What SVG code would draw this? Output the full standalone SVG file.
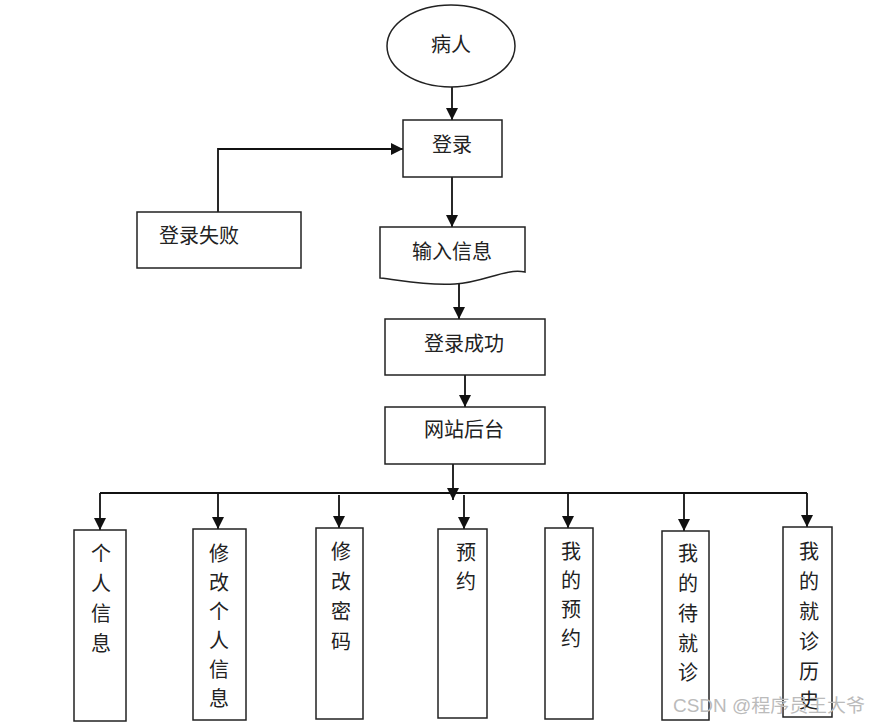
<svg xmlns="http://www.w3.org/2000/svg" width="880" height="724" viewBox="0 0 880 724">
<style>
.box{fill:#fff;stroke:#222;stroke-width:1.5}
.ln{fill:none;stroke:#111;stroke-width:1.8}
.t{font-family:"Noto Sans CJK SC","Liberation Serif",serif;font-size:20px;fill:#222;text-anchor:middle;dominant-baseline:central}
.wm{font-family:"Liberation Sans","Noto Sans CJK SC",sans-serif;font-size:18px;fill:#bbb}
</style>
<defs>
<marker id="ah" markerWidth="12" markerHeight="12" viewBox="0 0 12 12" refX="12" refY="6" orient="auto" markerUnits="userSpaceOnUse">
<path d="M0,0 L12,6 L0,12 Z" fill="#111"/>
</marker>
</defs>
<rect width="880" height="724" fill="#fff"/>
<g id="connectors">
<line class="ln" x1="452" y1="87" x2="452" y2="120" marker-end="url(#ah)"/>
<polyline class="ln" points="218,212 218,149 403,149" marker-end="url(#ah)"/>
<line class="ln" x1="452" y1="177" x2="452" y2="227" marker-end="url(#ah)"/>
<line class="ln" x1="459" y1="283" x2="459" y2="319" marker-end="url(#ah)"/>
<line class="ln" x1="465" y1="375" x2="465" y2="407" marker-end="url(#ah)"/>
<line class="ln" x1="453" y1="464" x2="453" y2="500" marker-end="url(#ah)"/>
<line class="ln" x1="100" y1="493" x2="807" y2="493"/>
<line class="ln" x1="100" y1="493" x2="100" y2="530" marker-end="url(#ah)"/>
<line class="ln" x1="218" y1="493" x2="218" y2="529" marker-end="url(#ah)"/>
<line class="ln" x1="339" y1="495" x2="339" y2="528" marker-end="url(#ah)"/>
<line class="ln" x1="464" y1="495" x2="464" y2="529" marker-end="url(#ah)"/>
<line class="ln" x1="568" y1="493" x2="568" y2="528" marker-end="url(#ah)"/>
<line class="ln" x1="684" y1="493" x2="684" y2="531" marker-end="url(#ah)"/>
<line class="ln" x1="807" y1="493" x2="807" y2="527" marker-end="url(#ah)"/>
</g>
<g id="patient">
<ellipse class="box" cx="451" cy="46" rx="64" ry="41"/>
<text class="t" x="451" y="43">病人</text>
</g>
<g id="login">
<rect class="box" x="403" y="120" width="99" height="57"/>
<text class="t" x="452" y="143">登录</text>
</g>
<g id="login-fail">
<rect class="box" x="137" y="212" width="164" height="56"/>
<text class="t" x="199" y="234">登录失败</text>
</g>
<g id="input-info">
<path class="box" d="M380,227 H525 V272 C505,268 485,282 455,284 C425,286 400,280 380,278 Z"/>
<text class="t" x="452" y="250">输入信息</text>
</g>
<g id="login-success">
<rect class="box" x="385" y="319" width="160" height="56"/>
<text class="t" x="464" y="342">登录成功</text>
</g>
<g id="backend">
<rect class="box" x="385" y="407" width="160" height="57"/>
<text class="t" x="464" y="428">网站后台</text>
</g>
<g id="personal-info">
<rect class="box" x="74" y="530" width="52" height="191"/>
<text class="t" x="101"><tspan x="101" y="552">个</tspan><tspan x="101" y="582">人</tspan><tspan x="101" y="612">信</tspan><tspan x="101" y="642">息</tspan></text>
</g>
<g id="edit-personal-info">
<rect class="box" x="193" y="529" width="53" height="191"/>
<text class="t" x="219"><tspan x="219" y="552">修</tspan><tspan x="219" y="581">改</tspan><tspan x="219" y="610">个</tspan><tspan x="219" y="639">人</tspan><tspan x="219" y="668">信</tspan><tspan x="219" y="697">息</tspan></text>
</g>
<g id="change-password">
<rect class="box" x="316" y="528" width="47" height="191"/>
<text class="t" x="341"><tspan x="341" y="550">修</tspan><tspan x="341" y="580">改</tspan><tspan x="341" y="610">密</tspan><tspan x="341" y="640">码</tspan></text>
</g>
<g id="appointment">
<rect class="box" x="438" y="529" width="49" height="189"/>
<text class="t" x="466"><tspan x="466" y="551">预</tspan><tspan x="466" y="580">约</tspan></text>
</g>
<g id="my-appointments">
<rect class="box" x="545" y="528" width="48" height="191"/>
<text class="t" x="571"><tspan x="571" y="550">我</tspan><tspan x="571" y="579">的</tspan><tspan x="571" y="608">预</tspan><tspan x="571" y="637">约</tspan></text>
</g>
<g id="pending-visits">
<rect class="box" x="662" y="531" width="47" height="189"/>
<text class="t" x="688"><tspan x="688" y="552">我</tspan><tspan x="688" y="582">的</tspan><tspan x="688" y="612">待</tspan><tspan x="688" y="642">就</tspan><tspan x="688" y="671">诊</tspan></text>
</g>
<g id="visit-history">
<rect class="box" x="783" y="527" width="49" height="190"/>
<text class="t" x="809"><tspan x="809" y="550">我</tspan><tspan x="809" y="580">的</tspan><tspan x="809" y="610">就</tspan><tspan x="809" y="640">诊</tspan><tspan x="809" y="670">历</tspan><tspan x="809" y="699">史</tspan></text>
</g>
<text class="wm" x="673" y="712" textLength="192" lengthAdjust="spacingAndGlyphs">CSDN @程序员王大爷</text>
</svg>
